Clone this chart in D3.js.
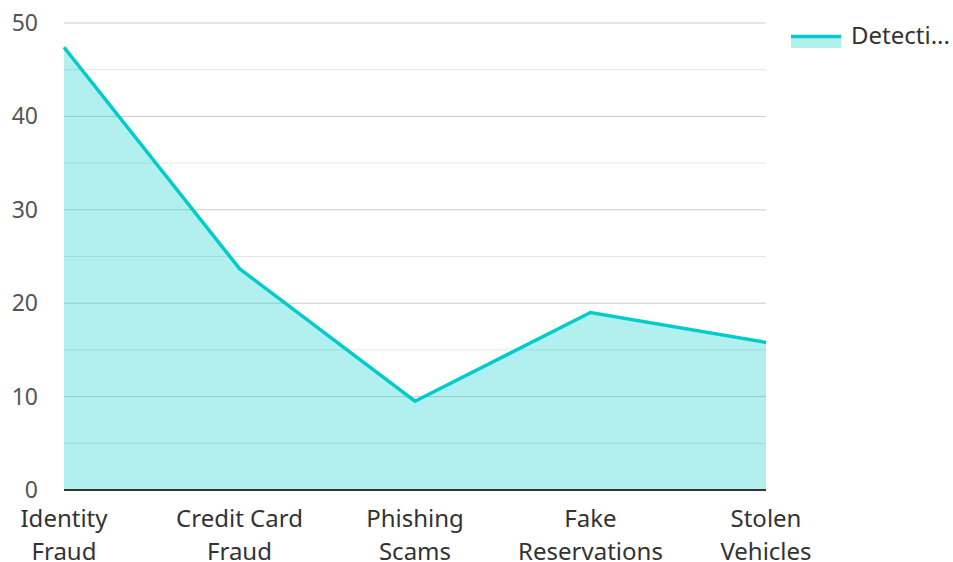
<!DOCTYPE html>
<html>
<head>
<meta charset="utf-8">
<script src="https://cdn.jsdelivr.net/npm/d3@7"></script>
<style>
  body { margin: 0; background: #fff; }
  text { font-family: "Noto Sans", sans-serif; }
</style>
</head>
<body>
<div id="chart"></div>
<script>
// donnees
const categories = [["Identity", "Fraud"], ["Credit Card", "Fraud"], ["Phishing", "Scams"], ["Fake", "Reservations"], ["Stolen", "Vehicles"]];
const valeurs = [47.4, 23.7, 9.5, 19.0, 15.8];
const serieNom = "Detecti...";
const ticksY = [0, 10, 20, 30, 40, 50];

const width = 953, height = 562;
const plotLeft = 64, plotRight = 766, plotTop = 23, plotBottom = 490;

const svg = d3.select("#chart").append("svg")
    .attr("width", width)
    .attr("height", height);

const x = d3.scalePoint()
    .domain(d3.range(valeurs.length))
    .range([plotLeft, plotRight]);

const y = d3.scaleLinear()
    .domain([0, 50])
    .range([plotBottom, plotTop]);

// grille secondaire
svg.append("g")
    .selectAll("line")
    .data(d3.range(5, 50, 10))
    .enter().append("line")
    .attr("x1", plotLeft).attr("x2", plotRight)
    .attr("y1", d => y(d)).attr("y2", d => y(d))
    .attr("stroke", "#e6e6e6")
    .attr("stroke-width", 1);

// grille principale
svg.append("g")
    .selectAll("line")
    .data(ticksY.filter(d => d > 0))
    .enter().append("line")
    .attr("x1", plotLeft).attr("x2", plotRight)
    .attr("y1", d => y(d)).attr("y2", d => y(d))
    .attr("stroke", "#cccccc")
    .attr("stroke-width", 1);

// aire
const area = d3.area()
    .x((d, i) => x(i))
    .y0(y(0))
    .y1(d => y(d));
svg.append("path")
    .datum(valeurs)
    .attr("d", area)
    .attr("fill", "#00cccc")
    .attr("fill-opacity", 0.3);

// ligne
const line = d3.line()
    .x((d, i) => x(i))
    .y(d => y(d));
svg.append("path")
    .datum(valeurs)
    .attr("d", line)
    .attr("fill", "none")
    .attr("stroke", "#00cccc")
    .attr("stroke-width", 3.5)
    .attr("stroke-linejoin", "miter");

// axe x
svg.append("line")
    .attr("x1", plotLeft).attr("x2", plotRight)
    .attr("y1", y(0)).attr("y2", y(0))
    .attr("stroke", "#333")
    .attr("stroke-width", 2);

// labels y
svg.append("g")
    .selectAll("text")
    .data(ticksY)
    .enter().append("text")
    .attr("x", 38)
    .attr("y", d => y(d))
    .attr("dy", "0.35em")
    .attr("text-anchor", "end")
    .attr("fill", "#555")
    .style("font-size", "23px")
    .text(d => d);

// labels x
const lab = svg.append("g")
    .selectAll("text")
    .data(categories)
    .enter().append("text")
    .attr("x", (d, i) => x(i))
    .attr("y", 527)
    .attr("text-anchor", "middle")
    .attr("fill", "#333")
    .style("font-size", "24px");
lab.each(function(d, i) {
    d3.select(this).selectAll("tspan")
        .data(d)
        .enter().append("tspan")
        .attr("x", x(i))
        .attr("dy", (t, j) => j === 0 ? 0 : "1.38em")
        .text(t => t);
});

// legende
const legend = svg.append("g").attr("transform", "translate(791,35)");
legend.append("rect")
    .attr("width", 50).attr("height", 13)
    .attr("fill", "#00cccc").attr("fill-opacity", 0.3);
legend.append("line")
    .attr("x1", 0).attr("x2", 50)
    .attr("y1", 1.5).attr("y2", 1.5)
    .attr("stroke", "#00cccc").attr("stroke-width", 3.5);
legend.append("text")
    .attr("x", 60).attr("y", 1)
    .attr("dy", "0.35em")
    .attr("fill", "#333")
    .style("font-size", "24px")
    .text(serieNom);
</script>
</body>
</html>
